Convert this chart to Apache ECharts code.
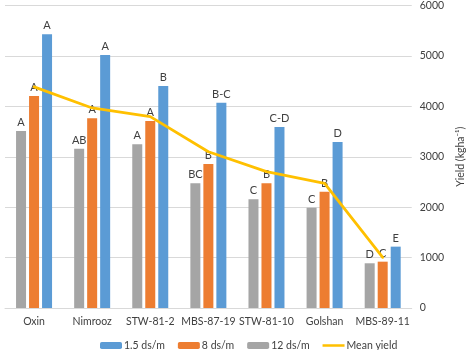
<!DOCTYPE html>
<html>
<head>
<meta charset="utf-8">
<script src="https://cdn.jsdelivr.net/npm/echarts@6/dist/echarts.min.js"></script>
<style>html,body{margin:0;padding:0;background:#fff}#c{width:474px;height:350px}</style>
</head>
<body>
<div id="c"></div>
<script>
var categories = ['Oxin', 'Nimrooz', 'STW-81-2', 'MBS-87-19', 'STW-81-10', 'Golshan', 'MBS-89-11'];
var yield15 = [5430, 5020, 4405, 4073, 3591, 3294, 1217];
var yield8 = [4206, 3764, 3710, 2857, 2474, 2308, 919];
var yield12 = [3512, 3161, 3248, 2474, 2156, 1990, 887];
var meanYield = [4385, 3968, 3796, 3100, 2705, 2474, 1006];
var letters15 = ['A', 'A', 'B', 'B-C', 'C-D', 'D', 'E'];
var letters8 = ['A', 'A', 'A', 'B', 'B', 'B', 'C'];
var letters12 = ['A', 'AB', 'A', 'BC', 'C', 'C', 'D'];
var yTicks = [0, 1000, 2000, 3000, 4000, 5000, 6000];

var FONT = 'Lato';
var TXT = '#404040';
function lab(arr) {
  return {
    show: true, position: 'top', distance: 3,
    color: TXT, fontFamily: FONT, fontSize: 11,
    formatter: function (p) { return arr[p.dataIndex]; }
  };
}
var chart = echarts.init(document.getElementById('c'), null, {renderer: 'canvas'});
chart.setOption({
  animation: false,
  backgroundColor: '#fff',
  grid: {left: 5, right: 47, top: 5, bottom: 42, containLabel: false},
  legend: {
    data: [
      {name: '1.5 ds/m'},
      {name: '8 ds/m'},
      {name: '12 ds/m'},
      {name: 'Mean yield', icon: 'path://M0,0h22v0.05h-22z M0,2.2h22v2.6h-22z M0,6.95h22v0.05h-22z'}
    ],
    left: 95, top: 335, itemWidth: 22, itemHeight: 7, itemGap: 13,
    textStyle: {color: TXT, fontFamily: FONT, fontSize: 10.5, padding: [0, 0, 0, -3]}
  },
  xAxis: {
    type: 'category', data: categories,
    axisLine: {lineStyle: {color: '#D9D9D9'}},
    axisTick: {show: false},
    axisLabel: {color: TXT, fontFamily: FONT, fontSize: 10.5, margin: 8, interval: 0}
  },
  yAxis: {
    type: 'value', position: 'right', min: yTicks[0], max: yTicks[yTicks.length - 1], interval: 1000,
    name: 'Yield (kgha\u207B\u00B9)', nameLocation: 'middle', nameRotate: 90, nameGap: 40,
    nameTextStyle: {color: TXT, fontFamily: FONT, fontSize: 10.5},
    axisLine: {show: false}, axisTick: {show: false},
    axisLabel: {color: TXT, fontFamily: FONT, fontSize: 10.5, margin: 8,
      formatter: function (v) { return String(v); }},
    splitLine: {lineStyle: {color: '#D9D9D9'}}
  },
  series: [
    {name: '12 ds/m', type: 'bar', data: yield12, barWidth: 10, barGap: '30%', barCategoryGap: '40%',
      itemStyle: {color: '#A5A5A5'}, label: lab(letters12)},
    {name: '8 ds/m', type: 'bar', data: yield8, barWidth: 10, barGap: '30%',
      itemStyle: {color: '#ED7D31'}, label: lab(letters8)},
    {name: '1.5 ds/m', type: 'bar', data: yield15, barWidth: 10, barGap: '30%',
      itemStyle: {color: '#5B9BD5'}, label: lab(letters15)},
    {name: 'Mean yield', type: 'line', data: meanYield, symbol: 'none', z: 5,
      lineStyle: {color: '#FFC000', width: 2.8, cap: 'round', join: 'round'},
      itemStyle: {color: '#FFC000'}}
  ]
});
</script>
</body>
</html>
